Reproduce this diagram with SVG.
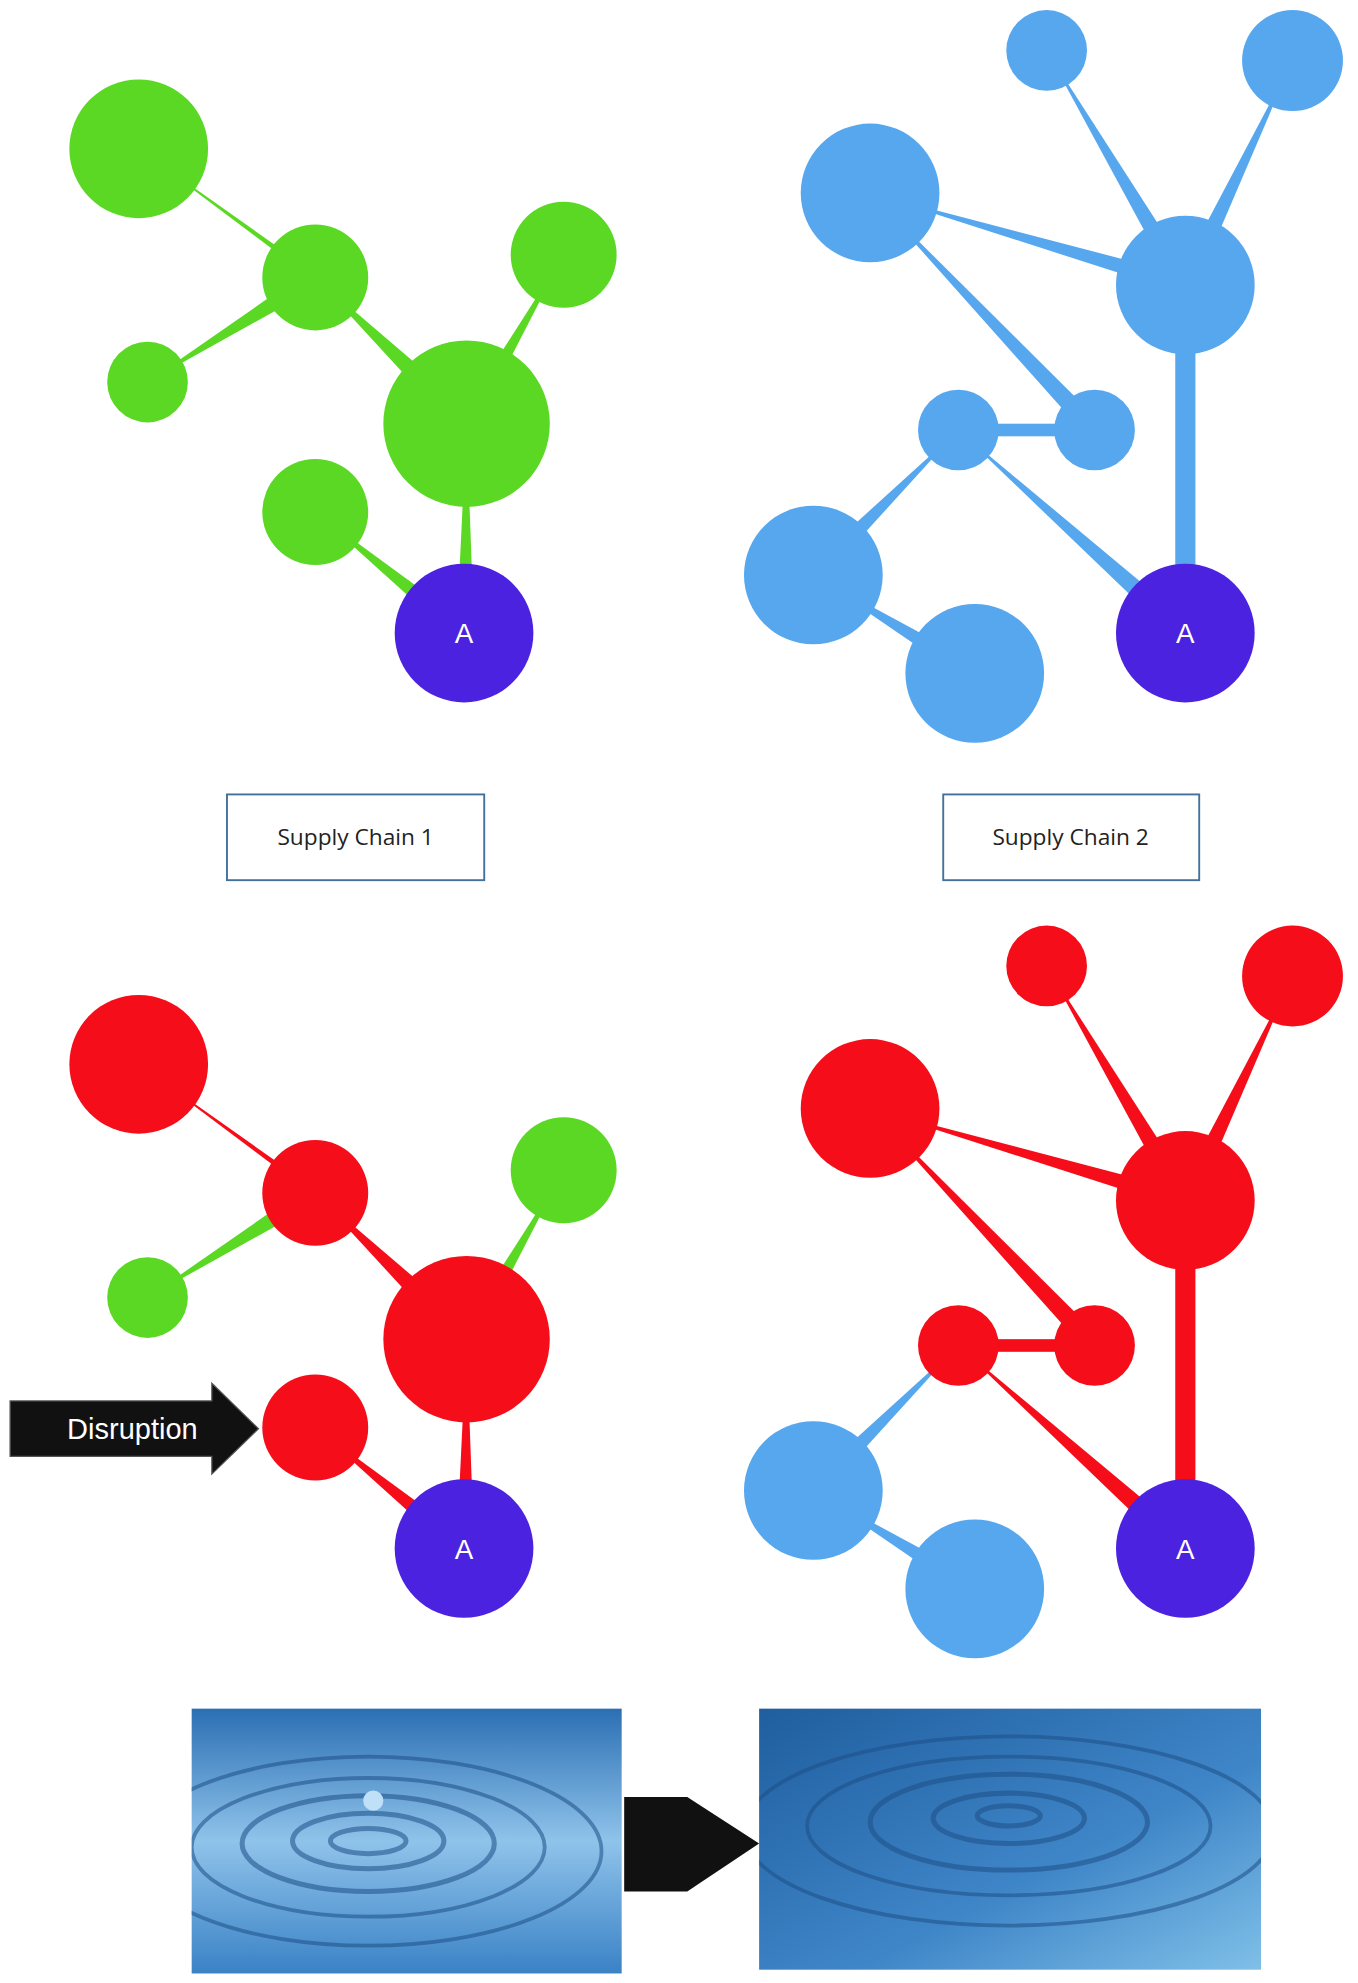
<svg xmlns="http://www.w3.org/2000/svg" width="1358" height="1983" viewBox="0 0 1358 1983">
<style>
.g{fill:#5ad823}.b{fill:#56a7ee}.r{fill:#f50d19}.p{fill:#4b22e0}
.lbl{fill:#fff;stroke:#41719c;stroke-width:1.5}
.t{font-family:"Open Sans","Liberation Sans",Arial,sans-serif;font-size:18px;fill:#222;text-anchor:middle}
.a{font-family:"Liberation Sans",Arial,sans-serif;font-size:22px;fill:#fff;text-anchor:middle}
.rip{fill:none;stroke:#1d4f86;stroke-opacity:.55}
</style>
<defs>
<linearGradient id="w1" x1="0" y1="0" x2="0" y2="1"><stop offset="0" stop-color="#2b6fb4"/><stop offset=".5" stop-color="#8fc3ea"/><stop offset="1" stop-color="#3a82c6"/></linearGradient>
<linearGradient id="w2" x1="0" y1="0" x2="1" y2="1"><stop offset="0" stop-color="#1f5e9f"/><stop offset=".6" stop-color="#3f86c8"/><stop offset="1" stop-color="#7fc0e8"/></linearGradient>
<clipPath id="k1"><rect x="152" y="1355" width="341" height="210"/></clipPath>
<clipPath id="k2"><rect x="602" y="1355" width="398" height="207"/></clipPath>
</defs>
<rect width="1358" height="1983" fill="#fff"/>
<g transform="scale(1.261)">
<g id="connectors">
<polygon class="g" points="110,118 246,214 254,226"/>
<polygon class="g" points="117,303 245,214 255,226"/>
<polygon class="g" points="250,220 364,344 376,328"/>
<polygon class="g" points="447,202 364,332 376,340"/>
<polygon class="g" points="370,336 362,502 376,502"/>
<polygon class="g" points="250,406 363,508 373,496"/>
<polygon class="b" points="830,40 933,230 947,222"/>
<polygon class="b" points="1025,48 933,222 947,230"/>
<polygon class="b" points="690,153 938,218 942,234"/>
<polygon class="b" points="690,153 862,346 874,336"/>
<rect class="b" x="932" y="226" width="16" height="276"/>
<rect class="b" x="760" y="336" width="108" height="10"/>
<polygon class="b" points="760,341 640,450 650,462"/>
<polygon class="b" points="760,341 934,508 946,496"/>
<polygon class="b" points="645,456 768,540 778,528"/>
<polygon class="r" points="110,844 246,940 254,952"/>
<polygon class="g" points="117,1029 245,940 255,952"/>
<polygon class="r" points="250,946 364,1070 376,1054"/>
<polygon class="g" points="447,928 364,1058 376,1066"/>
<polygon class="r" points="370,1062 362,1228 376,1228"/>
<polygon class="r" points="250,1132 363,1234 373,1222"/>
<polygon class="r" points="830,766 933,956 947,948"/>
<polygon class="r" points="1025,774 933,948 947,956"/>
<polygon class="r" points="690,879 938,944 942,960"/>
<polygon class="r" points="690,879 862,1072 874,1062"/>
<rect class="r" x="932" y="952" width="16" height="276"/>
<rect class="r" x="760" y="1062" width="108" height="10"/>
<polygon class="b" points="760,1067 640,1176 650,1188"/>
<polygon class="r" points="760,1067 934,1234 946,1222"/>
<polygon class="b" points="645,1182 768,1266 778,1254"/>
</g>
<g id="c1"><circle class="g" cx="110" cy="118" r="55"/><circle class="g" cx="250" cy="220" r="42"/><circle class="g" cx="117" cy="303" r="32"/><circle class="g" cx="447" cy="202" r="42"/><circle class="g" cx="370" cy="336" r="66"/><circle class="g" cx="250" cy="406" r="42"/></g>
<g id="a1"><circle class="p" cx="368" cy="502" r="55"/><text class="a" x="368" y="510">A</text></g>
<g id="c2"><circle class="b" cx="830" cy="40" r="32"/><circle class="b" cx="1025" cy="48" r="40"/><circle class="b" cx="690" cy="153" r="55"/><circle class="b" cx="940" cy="226" r="55"/><circle class="b" cx="760" cy="341" r="32"/><circle class="b" cx="868" cy="341" r="32"/><circle class="b" cx="645" cy="456" r="55"/><circle class="b" cx="773" cy="534" r="55"/></g>
<g id="a2"><circle class="p" cx="940" cy="502" r="55"/><text class="a" x="940" y="510">A</text></g>
<g id="l1"><rect class="lbl" x="180" y="630" width="204" height="68"/><text class="t" x="282" y="670">Supply Chain 1</text></g>
<g id="l2"><rect class="lbl" x="748" y="630" width="203" height="68"/><text class="t" x="849" y="670">Supply Chain 2</text></g>
<g id="c3"><circle class="r" cx="110" cy="844" r="55"/><circle class="r" cx="250" cy="946" r="42"/><circle class="g" cx="117" cy="1029" r="32"/><circle class="g" cx="447" cy="928" r="42"/><circle class="r" cx="370" cy="1062" r="66"/><circle class="r" cx="250" cy="1132" r="42"/></g>
<g id="a3"><circle class="p" cx="368" cy="1228" r="55"/><text class="a" x="368" y="1236">A</text></g>
<g id="c4"><circle class="r" cx="830" cy="766" r="32"/><circle class="r" cx="1025" cy="774" r="40"/><circle class="r" cx="690" cy="879" r="55"/><circle class="r" cx="940" cy="952" r="55"/><circle class="r" cx="760" cy="1067" r="32"/><circle class="r" cx="868" cy="1067" r="32"/><circle class="b" cx="645" cy="1182" r="55"/><circle class="b" cx="773" cy="1260" r="55"/></g>
<g id="a4"><circle class="p" cx="940" cy="1228" r="55"/><text class="a" x="940" y="1236">A</text></g>
<g id="disruption"><polygon points="8,1111 168,1111 168,1097 205,1133 168,1169 168,1155 8,1155" fill="#111" stroke="#555"/><text class="a" x="105" y="1141" style="font-size:23px">Disruption</text></g>
<g id="photo1"><rect x="152" y="1355" width="341" height="210" fill="url(#w1)"/>
<g clip-path="url(#k1)"><ellipse class="rip" cx="292" cy="1460" rx="30" ry="10" stroke-width="4"/><ellipse class="rip" cx="292" cy="1460" rx="60" ry="22" stroke-width="4"/><ellipse class="rip" cx="292" cy="1462" rx="100" ry="38" stroke-width="4"/><ellipse class="rip" cx="292" cy="1465" rx="140" ry="55" stroke-width="3"/><ellipse class="rip" cx="292" cy="1468" rx="185" ry="75" stroke-width="3"/></g><ellipse cx="296" cy="1428" rx="8" ry="8" fill="#bfe0f7"/></g>
<g id="arrow2"><polygon points="495,1425 545,1425 602,1462 545,1500 495,1500" fill="#111"/></g>
<g id="photo2"><rect x="602" y="1355" width="398" height="207" fill="url(#w2)"/>
<g clip-path="url(#k2)"><ellipse class="rip" cx="800" cy="1440" rx="25" ry="8" stroke-width="4"/><ellipse class="rip" cx="800" cy="1442" rx="60" ry="20" stroke-width="4"/><ellipse class="rip" cx="800" cy="1445" rx="110" ry="38" stroke-width="4"/><ellipse class="rip" cx="800" cy="1448" rx="160" ry="55" stroke-width="3"/><ellipse class="rip" cx="800" cy="1452" rx="210" ry="75" stroke-width="3"/></g></g>
</g>
</svg>
